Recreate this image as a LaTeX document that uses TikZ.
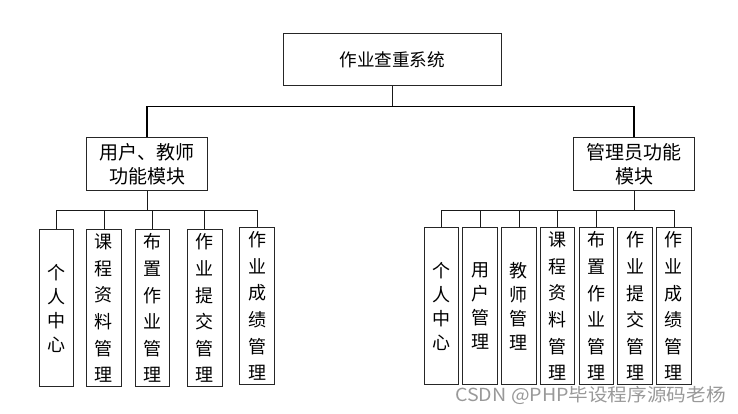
\documentclass[tikz,border=0pt]{standalone}
\usepackage{fontspec}
\setmainfont{Noto Sans CJK SC}
\usetikzlibrary{positioning,calc}
\tikzset{
  sysbox/.style={
    draw=black!85,
    rectangle,
    minimum width=217.7pt,
    minimum height=52.4pt,
    inner sep=0pt,
    line width=0.9pt,
    fill=white,
    font=\fontsize{17.6}{21}\selectfont
  },
  modbox/.style={
    draw=black!85,
    rectangle,
    minimum width=121pt,
    minimum height=53pt,
    inner sep=0pt,
    align=center,
    line width=0.9pt,
    fill=white,
    font=\fontsize{19}{23.7}\selectfont
  },
  funcbox/.style={
    draw=black!85,
    rectangle,
    minimum width=34.5pt,
    minimum height=157pt,
    inner sep=0pt,
    align=center,
    line width=0.9pt,
    fill=white,
    font=\fontsize{18}{24}\selectfont
  },
  funcboxlong/.style={funcbox, font=\fontsize{18}{26.6}\selectfont},
  trunk/.style={line width=1.6pt, black},
  link/.style={line width=0.8pt, black!90},
  wmark/.style={font=\fontsize{18}{18}\selectfont, text=black!40, inner sep=0pt}
}

\begin{document}
\begin{tikzpicture}[x=1pt, y=-1pt]
  \useasboundingbox (0,0) rectangle (738,414);

  \node[sysbox] (sys) at (392.2,59.5) {作业查重系统};
  \node[modbox] (user) at (147,164.2) {用户、教师\\功能模块};
  \node[modbox] (admin) at (634,164.2) {管理员功能\\模块};

  % user / teacher functions
  \node[funcbox] (u1) at (56.2,308.3) {个\\人\\中\\心};
  \node[funcboxlong] (u2) at (103.9,308.3) {课\\程\\资\\料\\管\\理};
  \node[funcboxlong] (u3) at (152.3,308.3) {布\\置\\作\\业\\管\\理};
  \node[funcboxlong] (u4) at (204.7,308.3) {作\\业\\提\\交\\管\\理};
  \node[funcboxlong] (u5) at (257,306) {作\\业\\成\\绩\\管\\理};

  % admin functions
  \node[funcbox] (a1) at (441.2,306.2) {个\\人\\中\\心};
  \node[funcbox] (a2) at (480,306.2) {用\\户\\管\\理};
  \node[funcbox] (a3) at (518.9,306.2) {教\\师\\管\\理};
  \node[funcboxlong] (a4) at (557.5,306.2) {课\\程\\资\\料\\管\\理};
  \node[funcboxlong] (a5) at (596.2,306.2) {布\\置\\作\\业\\管\\理};
  \node[funcboxlong] (a6) at (635,306.2) {作\\业\\提\\交\\管\\理};
  \node[funcboxlong] (a7) at (673.9,306.2) {作\\业\\成\\绩\\管\\理};

  \coordinate (mainbus) at (0,106.7);
  \coordinate (ubus) at (0,210.7);
  \coordinate (abus) at (0,210.7);

  \draw[link] (sys.south) -- (sys.south |- mainbus);
  \draw[trunk] (user.north) |- (sys.south |- mainbus) -| (admin.north);

  \draw[link] (user.south) -- (user.south |- ubus);
  \draw[link] (u1.north) |- (u5.north |- ubus) -- (u5.north);
  \draw[link] (u2.north) -- (u2.north |- ubus);
  \draw[link] (u3.north) -- (u3.north |- ubus);
  \draw[link] (u4.north) -- (u4.north |- ubus);

  \draw[link] (admin.south) -- (admin.south |- abus);
  \draw[link] (a1.north) |- (a7.north |- abus) -- (a7.north);
  \draw[link] (a2.north) -- (a2.north |- abus);
  \draw[link] (a3.north) -- (a3.north |- abus);
  \draw[link] (a4.north) -- (a4.north |- abus);
  \draw[link] (a5.north) -- (a5.north |- abus);

  \node[wmark, xscale=1.09, transform shape] (csdn) at (590.5,395) {CSDN @PHP毕设程序源码老杨};
\end{tikzpicture}
\end{document}
